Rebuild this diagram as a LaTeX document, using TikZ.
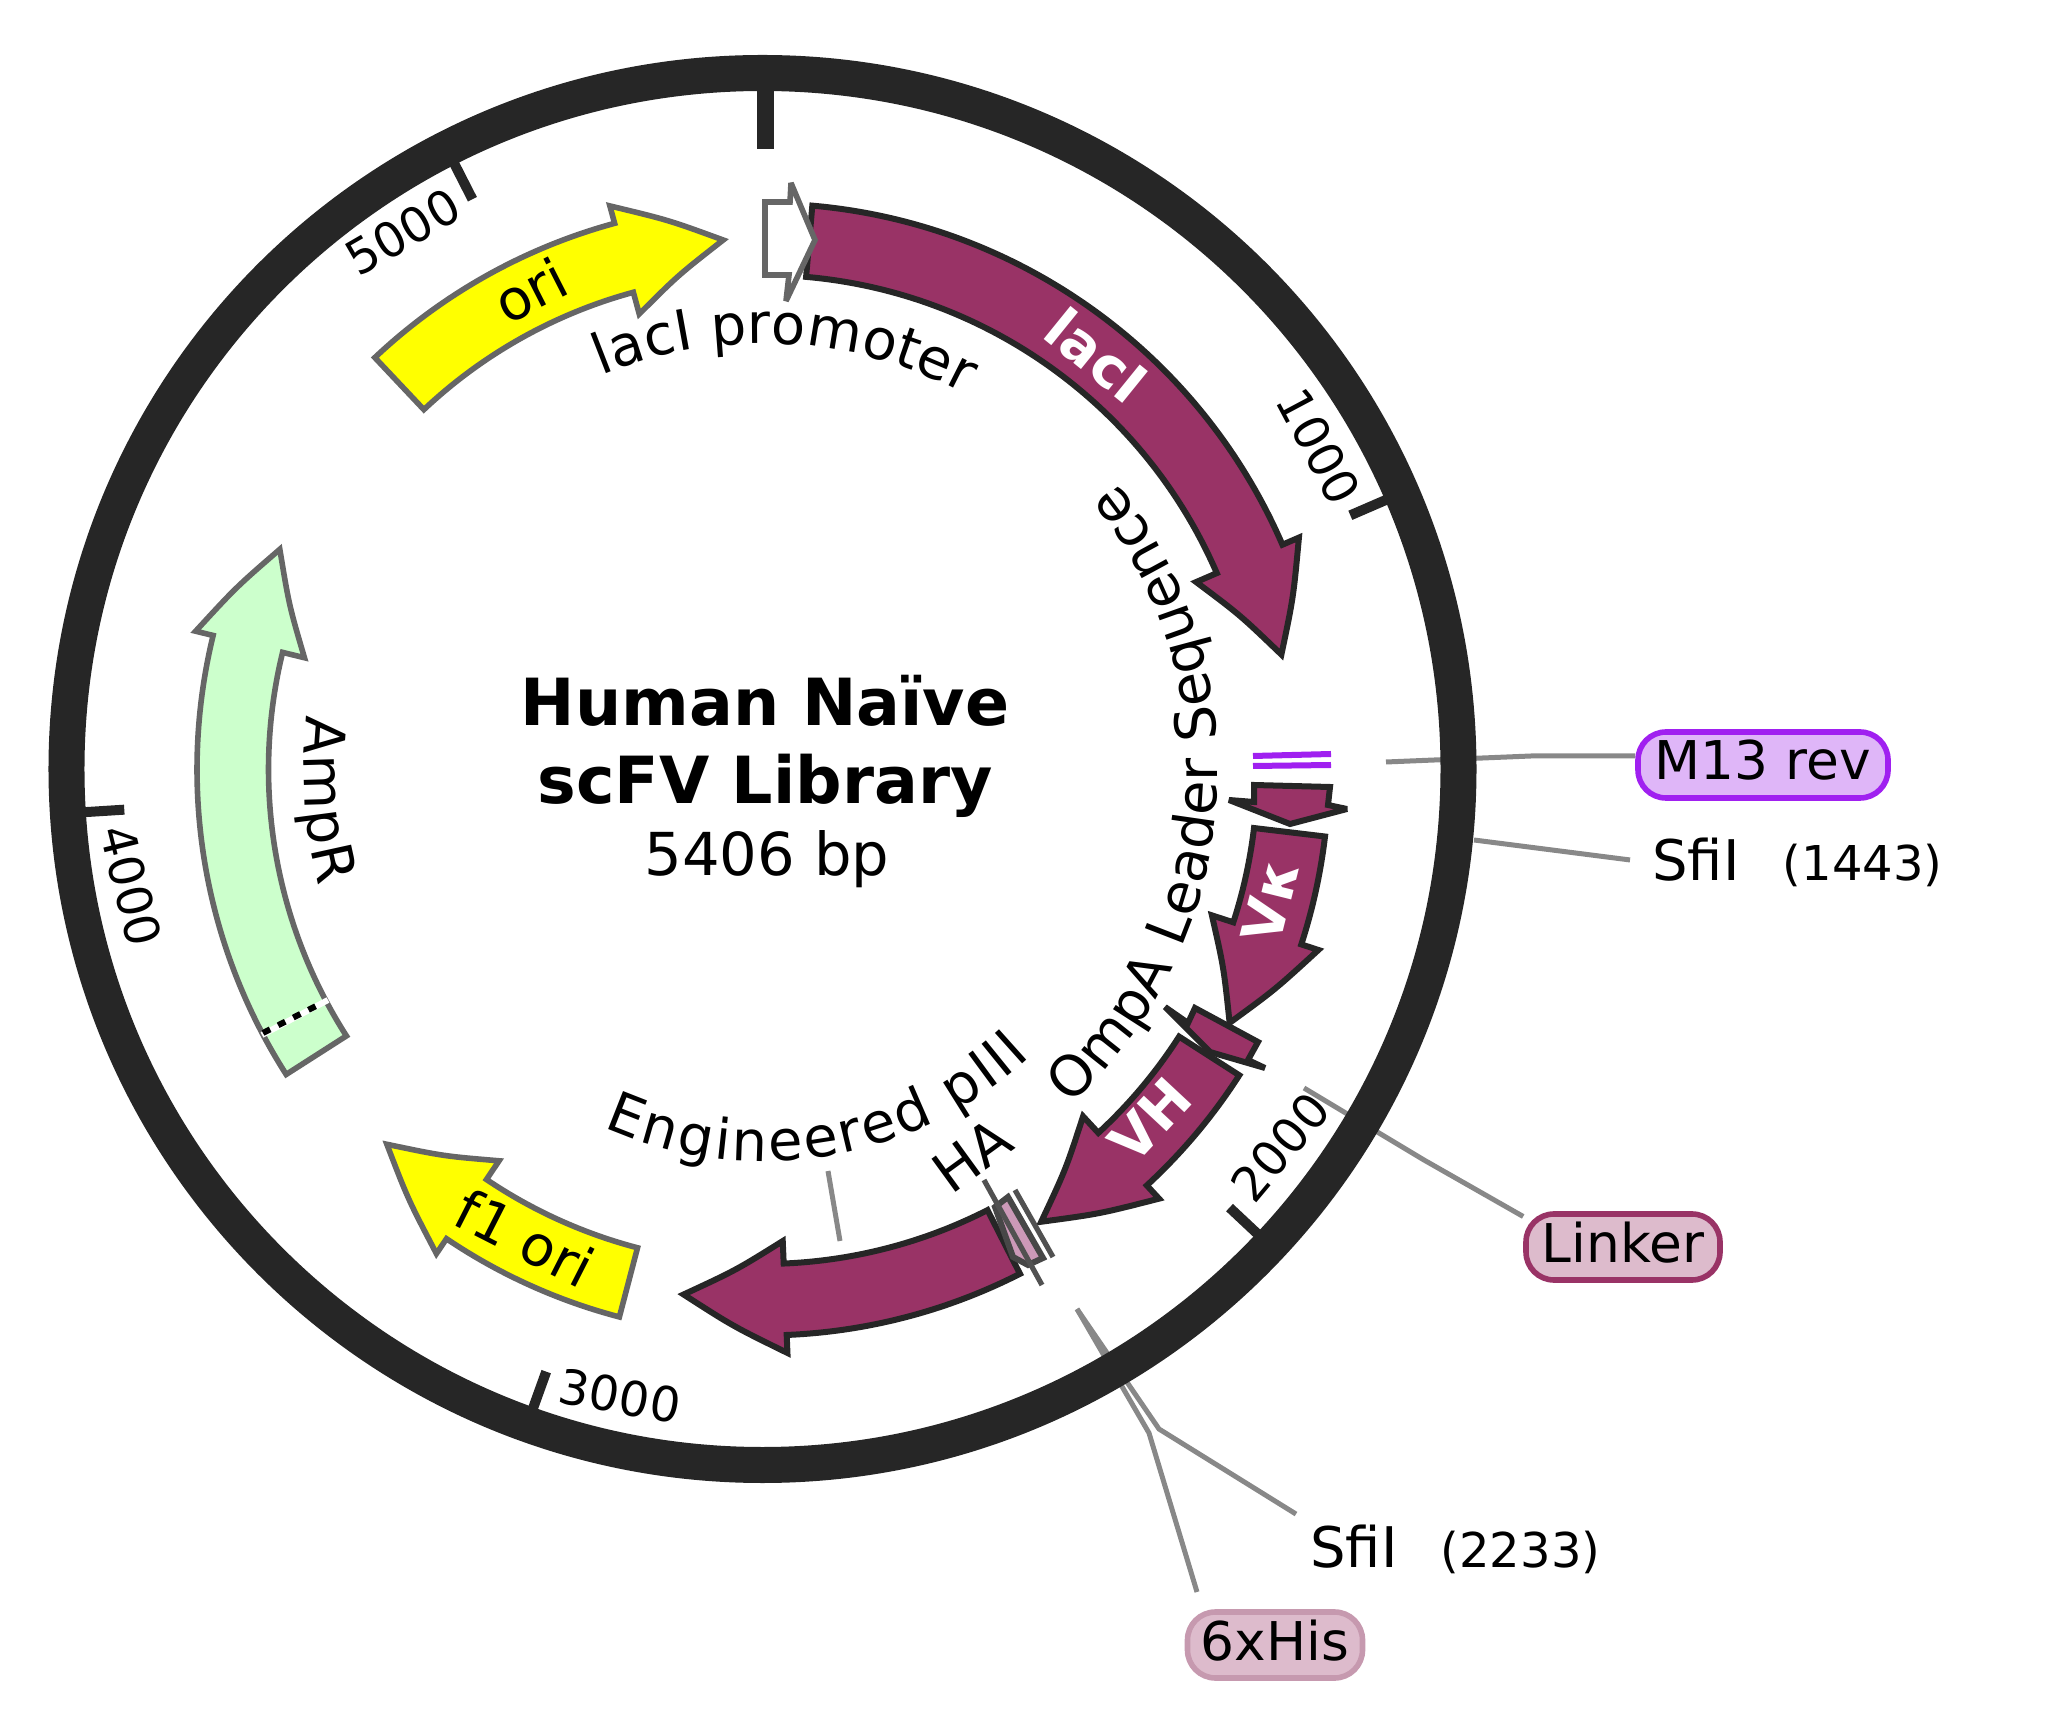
\documentclass[tikz,border=0pt]{standalone}
\usepackage{fontspec}
\setmainfont{DejaVu Sans}
\usetikzlibrary{decorations.text,calc}
\definecolor{ringc}{HTML}{262626}
\definecolor{plum}{HTML}{993366}
\definecolor{greyo}{HTML}{666666}
\definecolor{conn}{HTML}{888888}
\definecolor{minty}{HTML}{CCFFCC}
\definecolor{sun}{HTML}{FFFF00}
\definecolor{purp}{HTML}{A020F0}
\definecolor{purpl}{HTML}{DFB6F8}
\definecolor{pinkl}{HTML}{DDBBCC}
\definecolor{pinkm}{HTML}{C699AF}
\definecolor{pinkh}{HTML}{CC99B8}
\newcommand\lblfont{\fontsize{28}{34}\selectfont}
\newcommand\pillfont{\fontsize{26.7}{32}\selectfont}
\newcommand\tickfont{\fontsize{24}{29}\selectfont}
\tikzset{
  pix/.style={cm={1,0,0,-1,(-765,769)}},
  genecentre/.style={shift={(-2,-0.5)}},
  plumgene/.style={draw=ringc,fill=plum,line width=3pt,line join=miter,miter limit=10},
  plumsmall/.style={draw=ringc,fill=plum,line width=3pt,line join=miter,miter limit=3},
  yellowgene/.style={draw=greyo,fill=sun,line width=2.8pt,miter limit=10},
  greengene/.style={draw=greyo,fill=minty,line width=2.8pt,miter limit=10},
  connector/.style={draw=conn,line width=2.5pt},
  tickmark/.style={draw=ringc,line width=5pt},
  ticklabel/.style={font=\tickfont,inner sep=0pt},
  genelabel/.style={font=\lblfont,inner sep=0pt},
  whitelabel/.style={font=\fontsize{28}{34}\selectfont\bfseries,text=white,inner sep=0pt},
  pill/.style={rectangle,rounded corners=14pt,line width=2.8pt,font=\pillfont,inner sep=0pt,anchor=center,text height=15pt,text depth=0pt,minimum height=33pt},
  curved/.style={decorate,decoration={text along path,text align=fit to path,text={|\lblfont|#1}}},
  curvedmid/.style={decorate,decoration={text along path,text align=center,text={|\lblfont|#1}}},
}
% start, neck, tip angles (clockwise arrow)
\newcommand\genearrow[4][]{%
  \draw[#1] (#2:566) arc[start angle=#2,end angle=#3,radius=283pt]
    -- (#3:584)
    .. controls ({(#3+#4+0.2)/2}:{(584+531)/2}) .. ({#4+0.2}:531)
    .. controls ({(#3+#4+0.2)/2}:{(472+531)/2}) .. (#3:472)
    -- (#3:494.5) arc[start angle=#3,end angle=#2,radius=247.25pt] -- cycle;}
\begin{document}
\begin{tikzpicture}[x=0.5pt,y=0.5pt]
\useasboundingbox (-765,-963) rectangle (1283,769);
\begin{scope}[pix]
  % connector end points
  \coordinate (m13a) at (1386,762);
  \coordinate (m13b) at (1531,756);
  \coordinate (sfia) at (1474,840);
  \coordinate (linka) at (1304,1088);
  \coordinate (linkb) at (1424,1160);
  \coordinate (sfiba) at (1077,1309);
  \coordinate (sfibb) at (1159,1429);
  \coordinate (hisb) at (1149,1433);
  \coordinate (hisend) at (1197,1592);
  \coordinate (piiia) at (828,1171);
  \coordinate (piiib) at (840,1241);
  % pills and side labels
  \node[pill,draw=purp,fill=purpl,minimum width=125pt] (m13) at (1763,765) {M13 rev};
  \node[pill,draw=plum,fill=pinkl,minimum width=97pt] (linker) at (1623,1247) {Linker};
  \node[pill,draw=pinkm,fill=pinkl,minimum width=87.5pt] (his) at (1275,1645) {6xHis};
  \node[anchor=base west,inner xsep=11pt,inner ysep=3pt,font=\lblfont] (sfiA) at (1630,881) {SfiI\hspace{21.5pt}{\tickfont(1443)}};
  \node[anchor=base west,inner xsep=7pt,inner ysep=5pt,font=\lblfont] (sfiB) at (1296,1567) {SfiI\hspace{21.5pt}{\tickfont(2233)}};
  % connectors
  \draw[connector] (m13a) -- (m13b) -- (m13b -| m13.west);
  \draw[connector] (sfia) -- (sfiA.179);
  \draw[connector] (linka) -- (linkb) -- (linker.163);
  \draw[connector] (sfiba) -- (sfibb) -- (sfiB.north west);
  \draw[connector] (sfiba) -- (hisb) -- (hisend);
  \draw[connector] (piiia) -- (piiib);
\end{scope}

% ring
\begin{scope}[shift={(-2.5,0)}]
  \draw[ringc,line width=18pt] (0,0) circle[radius=348pt];
\end{scope}
\begin{scope}[pix]
  \draw[ringc,line width=8.8pt] (765.5,89) -- (765.5,149);
\end{scope}
\begin{scope}[genecentre]
\foreach \a in {23.4,-43.2,-109.8,-176.4,117}{
  \draw[tickmark] (\a:682) -- (\a:640);
}

% gene arrows
\genearrow[yellowgene]{133.3}{105.2}{94.1}
\genearrow[plumgene]{85}{23.4}{12.3}
\genearrow[greengene]{212.6}{166.3}{155.3}
\genearrow[yellowgene]{255.3}{236}{224.7}
\genearrow[plumgene]{297}{272.4}{261.2}
\genearrow[plumgene]{327.3}{312.7}{301.4}
\genearrow[plumgene]{353.2}{342}{331.3}
\end{scope}

\begin{scope}[pix]
  % lacI promoter
  \draw[draw=greyo,fill=white,line width=2.8pt,miter limit=3] (765,202) -- (790,202) -- (791,183) -- (815,240) -- (786,301) -- (789,275) -- (765,275) -- cycle;
  % small segments
  \draw[plumsmall] (1254,785) -- (1330,787) -- (1328,805) -- (1347,809) -- (1290,824) -- (1229,800) -- (1254,802) -- cycle;
  \draw[plumsmall] (1195,1008) -- (1258,1042) -- (1248,1060) -- (1265,1068) -- (1210,1052) -- (1165,1007) -- (1188,1023) -- cycle;
  % M13 rev site
  \draw[purp,line width=3pt] (1253,756) -- (1331,754);
  \draw[purp,line width=3pt] (1253,766) -- (1331,765);
  % HA / 6xHis
  \draw[draw=ringc!85!white,fill=pinkh,line width=3pt] (1008,1197) -- (1043,1258) -- (1028,1265) -- (1013,1257) -- (995,1207) -- cycle;
  \draw[draw=ringc!80!white,line width=2.6pt] (984,1180) -- (1042,1285);
  \draw[draw=ringc!80!white,line width=2.6pt] (1015,1190) -- (1053,1257);
  % AmpR dashed mark
  \draw[white,line width=3pt] (262,1035) -- (328,1000);
  \draw[black,line width=3pt,dash pattern=on 4pt off 4.5pt] (263,1033) -- (322,1003);
  % centre
  \node[anchor=base,font=\fontsize{32.5}{38}\selectfont\bfseries,inner sep=0pt] (title1) at (765,726) {Human Naïve};
  \node[anchor=base,font=\fontsize{32.5}{38}\selectfont\bfseries,inner sep=0pt] (title2) at (765,804) {scFV Library};
  \node[anchor=base,font=\fontsize{29.6}{35}\selectfont,inner sep=0pt] (title3) at (767,876) {5406 bp};
  % tick labels
  \node[ticklabel,rotate=30] (t5) at (403,232) {5000};
  \node[ticklabel,rotate=-62] (t1) at (1319,446) {1000};
  \node[ticklabel,rotate=50] (t2) at (1280,1147) {2000};
  \node[ticklabel,rotate=-10] (t3) at (620,1396) {3000};
  \node[ticklabel,rotate=-76] (t4) at (131,886) {4000};
  % gene labels
  \node[genelabel,rotate=27] (ori) at (530,290) {ori};
  \node[genelabel,rotate=-27] (f1) at (525,1238) {f1 ori};
  \node[whitelabel,rotate=-39] (laci) at (1097,355) {lacI};
  \node[whitelabel,rotate=76] (vk) at (1270,901) {Vκ};
  \node[whitelabel,rotate=47] (vh) at (1150,1120) {VH};
  \node[genelabel,rotate=36] (ha) at (972,1155) {HA};
\end{scope}

% curved labels
\begin{scope}[genecentre]
\path[curvedmid={lacI promoter}] (127:426) arc[start angle=127,end angle=47,radius=213pt];
\path[curved={OmpA Leader Sequence}] (-47.5:455) arc[start angle=-47.5,end angle=39,radius=227.5pt];
\path[curved={Engineered pIII}] (246:392) arc[start angle=246,end angle=313,radius=196pt];
\path[curved={AmpR}] (173.3:459) arc[start angle=173.3,end angle=194.8,radius=229.5pt];
\end{scope}
\end{tikzpicture}
\end{document}
